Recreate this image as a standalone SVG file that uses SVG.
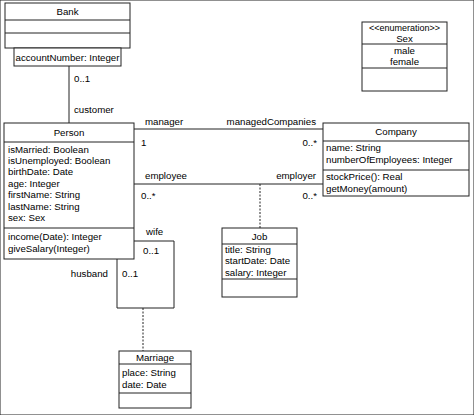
<svg xmlns="http://www.w3.org/2000/svg" width="474" height="415" viewBox="0 0 474 415">
<style>
text{font-family:"Liberation Sans",Arial,sans-serif;font-size:9.7px;fill:#000}
.c{text-anchor:middle}
.e{text-anchor:end}
rect,line,path,polyline{fill:none;stroke:#222;stroke-width:1}
.bg{fill:#fff}
.d{stroke-dasharray:2,1.5}
</style>
<rect x="0" y="0" width="474" height="415" fill="#fff" stroke="none"/>
<g id="connectors">
<line x1="69" y1="66" x2="69" y2="123"/>
<line x1="134" y1="129" x2="323" y2="129"/>
<line x1="134" y1="184" x2="323" y2="184"/>
<line class="d" x1="260" y1="184" x2="260" y2="228"/>
<polyline points="134,241 174,241 174,308 117,308 117,259"/>
<line class="d" x1="143" y1="308" x2="143" y2="351"/>
<text x="74" y="82">0..1</text>
<text x="74" y="113">customer</text>
<text x="145" y="125">manager</text>
<text class="e" x="316" y="125">managedCompanies</text>
<text x="141" y="146">1</text>
<text class="e" x="317" y="146">0..*</text>
<text x="145" y="179">employee</text>
<text class="e" x="316" y="179">employer</text>
<text x="141" y="199">0..*</text>
<text class="e" x="317" y="199">0..*</text>
<text x="146" y="235">wife</text>
<text x="143" y="254">0..1</text>
<text class="e" x="108" y="277">husband</text>
<text x="122" y="277">0..1</text>
</g>
<g id="Bank">
<rect class="bg" x="5" y="3" width="125" height="45"/>
<line x1="5" y1="20" x2="130" y2="20"/>
<line x1="5" y1="33" x2="130" y2="33"/>
<text class="c" x="67.5" y="15">Bank</text>
<rect class="bg" x="14" y="48" width="107" height="18"/>
<text class="c" x="67.5" y="61">accountNumber: Integer</text>
</g>
<g id="Person">
<rect class="bg" x="4" y="123" width="130" height="136"/>
<line x1="4" y1="142" x2="134" y2="142"/>
<line x1="4" y1="228" x2="134" y2="228"/>
<text class="c" x="69" y="136">Person</text>
<text x="8" y="153">isMarried: Boolean</text>
<text x="8" y="164">isUnemployed: Boolean</text>
<text x="8" y="175">birthDate: Date</text>
<text x="8" y="187">age: Integer</text>
<text x="8" y="198">firstName: String</text>
<text x="8" y="210">lastName: String</text>
<text x="8" y="221">sex: Sex</text>
<text x="8" y="240">income(Date): Integer</text>
<text x="8" y="252">giveSalary(Integer)</text>
</g>
<g id="Company">
<rect class="bg" x="323" y="123" width="146" height="73"/>
<line x1="323" y1="141" x2="469" y2="141"/>
<line x1="323" y1="170" x2="469" y2="170"/>
<text class="c" x="396" y="135">Company</text>
<text x="326" y="151">name: String</text>
<text x="326" y="163">numberOfEmployees: Integer</text>
<text x="326" y="180">stockPrice(): Real</text>
<text x="326" y="192">getMoney(amount)</text>
</g>
<g id="Job">
<rect class="bg" x="222" y="228" width="75" height="69"/>
<line x1="222" y1="244" x2="297" y2="244"/>
<line x1="222" y1="279" x2="297" y2="279"/>
<text class="c" x="259.5" y="240">Job</text>
<text x="225" y="253">title: String</text>
<text x="225" y="264">startDate: Date</text>
<text x="225" y="276">salary: Integer</text>
</g>
<g id="Marriage">
<rect class="bg" x="119" y="351" width="72" height="57"/>
<line x1="119" y1="364" x2="191" y2="364"/>
<line x1="119" y1="393" x2="191" y2="393"/>
<text class="c" x="155" y="361">Marriage</text>
<text x="122" y="376">place: String</text>
<text x="122" y="388">date: Date</text>
</g>
<g id="Sex">
<rect class="bg" x="362" y="22" width="85" height="69"/>
<line x1="362" y1="44" x2="447" y2="44"/>
<line x1="362" y1="68" x2="447" y2="68"/>
<text class="c" x="404.5" y="31" style="font-size:9px">&lt;&lt;enumeration&gt;&gt;</text>
<text class="c" x="404.5" y="42">Sex</text>
<text class="c" x="404.5" y="54">male</text>
<text class="c" x="404.5" y="65">female</text>
</g>
</svg>
